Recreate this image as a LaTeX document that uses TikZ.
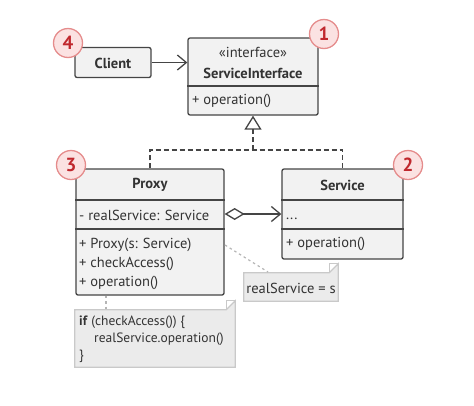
\documentclass[tikz,border=0pt]{standalone}
\usepackage{fontspec}
\setmainfont{PT Sans}
\setsansfont{PT Sans}
\usetikzlibrary{arrows.meta}
\definecolor{linec}{HTML}{454545}
\definecolor{boxfill}{HTML}{F2F2F2}
\definecolor{txt}{HTML}{333333}
\definecolor{notefill}{HTML}{EBEBEB}
\definecolor{notedraw}{HTML}{C9C9C9}
\definecolor{dotc}{HTML}{B5B5B5}
\definecolor{badgedraw}{HTML}{E58C8C}
\definecolor{badgefill}{HTML}{FBE2E2}
\definecolor{badgetxt}{HTML}{C0282E}
\tikzset{
  cls/.style={draw=linec, fill=boxfill, line width=1.3pt, rounded corners=2pt, inner sep=0pt},
  divider/.style={draw=linec, line width=1.3pt},
  lbl/.style={text=txt, font=\fontsize{14.5}{17}\selectfont, inner sep=0pt},
  title/.style={lbl, font=\fontsize{14.5}{17}\selectfont\bfseries},
  mem/.style={lbl, anchor=west},
  codeline/.style={mem, font=\fontsize{13.5}{17}\selectfont},
  badge/.style={circle, draw=badgedraw, fill=badgefill, line width=1.3pt, minimum size=29pt, inner sep=0pt, text=badgetxt, font=\fontsize{19}{19}\selectfont\bfseries},
  notebox/.style={inner sep=0pt},
  notepath/.style={draw=notedraw, fill=notefill, line width=1.2pt},
  conn/.style={draw=linec, line width=1.3pt},
  dotline/.style={draw=dotc, line width=1.2pt, dash pattern=on 2.5pt off 3pt},
}
\begin{document}
\begin{tikzpicture}[x=1pt,y=-1pt]
\useasboundingbox (0,0) rectangle (474,405);
% Client
\node[cls, minimum width=76pt, minimum height=30pt] (client) at (113,62.5) {};
\node[title] (clientT) at (113,63) {Client};
% ServiceInterface
\node[cls, minimum width=130pt, minimum height=77pt] (si) at (253,76.5) {};
\draw[divider] (si.west |- 0,86) -- (si.east |- 0,86);
\node[lbl] (siS) at (253,52) {«interface»};
\node[title] (siT) at (253,73) {ServiceInterface};
\node[mem] (siM) at (192,101) {+ operation()};
% Proxy
\node[cls, minimum width=148pt, minimum height=126pt] (proxy) at (150,232) {};
\draw[divider] (proxy.west |- 0,200) -- (proxy.east |- 0,200);
\draw[divider] (proxy.west |- 0,229) -- (proxy.east |- 0,229);
\node[title] (proxyT) at (150,185) {Proxy};
\node[mem] (proxyF) at (79,215) {- realService: Service};
\node[mem] (proxyM1) at (79,245) {+ Proxy(s: Service)};
\node[mem] (proxyM2) at (79,264) {+ checkAccess()};
\node[mem] (proxyM3) at (79,283) {+ operation()};
% Service
\node[cls, minimum width=121pt, minimum height=90pt] (service) at (342.5,214) {};
\draw[divider] (service.west |- 0,200) -- (service.east |- 0,200);
\draw[divider] (service.west |- 0,229) -- (service.east |- 0,229);
\node[title] (serviceT) at (342.5,185) {Service};
\node[mem, anchor=base west] (serviceF) at (286,219) {...};
\node[mem] (serviceM) at (286,244) {+ operation()};
% connectors
\draw[conn, -{Straight Barb[length=9pt,width=15pt,line width=1.3pt]}] (client.east) -- (si.west |- client.east);
\draw[conn, {Diamond[open,length=20pt,width=12pt,line width=1.3pt]}-{Straight Barb[length=9pt,width=15pt,line width=1.3pt]}] (proxy.east |- 0,214) -- (service.west |- 0,214);
\coordinate (join) at (253,150);
\draw[conn, dash pattern=on 5pt off 3pt] (proxy.north) |- (join) -| (service.north);
\draw[conn, dash pattern=on 5pt off 3pt, -{Triangle[open,length=14pt,width=17pt,line width=1.3pt]}] (join) -- (si.south);
% notes
\node[notebox, minimum width=94pt, minimum height=28pt] (note1) at (291,287) {};
\path[notepath] (note1.north west) -- ([xshift=-9pt]note1.north east) -- ([yshift=9pt]note1.north east) -- (note1.south east) -- (note1.south west) -- cycle;
\draw[draw=notedraw, line width=1.2pt] ([xshift=-9pt]note1.north east) |- ([yshift=9pt]note1.north east);
\node[lbl] (note1T) at (291,288) {realService = s};
\node[notebox, minimum width=160pt, minimum height=57pt] (code) at (155,338.5) {};
\path[notepath] (code.north west) -- ([xshift=-9pt]code.north east) -- ([yshift=9pt]code.north east) -- (code.south east) -- (code.south west) -- cycle;
\draw[draw=notedraw, line width=1.2pt] ([xshift=-9pt]code.north east) |- ([yshift=9pt]code.north east);
\node[codeline] (code1) at (79,322) {\textbf{if} (checkAccess()) \{};
\node[codeline] (code2) at (94,339) {realService.operation()};
\node[codeline] (code3) at (79,356) {\}};
\coordinate (c1a) at (225,245);
\coordinate (c1b) at (268,272);
\draw[dotline] (c1a) -- (c1b);
\coordinate (c2) at (106,0);
\draw[dotline] (proxy.south -| c2) -- (code.north -| c2);
% badges
\node[badge] (b4) at (68,43) {4};
\node[badge] (b1) at (324,34) {1};
\node[badge] (b3) at (71,165) {3};
\node[badge] (b2) at (408,165) {2};
\end{tikzpicture}
\end{document}
